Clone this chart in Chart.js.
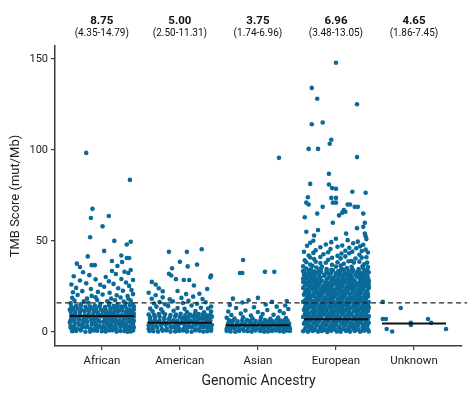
<!DOCTYPE html>
<html>
<head>
<meta charset="utf-8">
<script src="https://cdn.jsdelivr.net/npm/chart.js@4"></script>
<style>
    body { margin: 0; background: #fff; }
    #wrap { width: 474px; height: 396px; position: relative; }
</style>
</head>
<body>
<div id="wrap"><canvas id="tmbChart"></canvas></div>
<script>
// Categories and summary labels
const categories = ["African", "American", "Asian", "European", "Unknown"];
const medians = [8.75, 5.00, 3.75, 6.96, 4.65];
const medianLabels = ["8.75", "5.00", "3.75", "6.96", "4.65"];
const rangeLabels = ["(4.35-14.79)", "(2.50-11.31)", "(1.74-6.96)", "(3.48-13.05)", "(1.86-7.45)"];
const yTicks = [0, 50, 100, 150];
const threshold = 16;

// Points: [jitter offset from category centre, TMB score]
const africanPoints = [
    [-.38,.4],[-.27,.9],[-.15,.2],[-.06,.7],[.05,.3],[.14,1.0],[.24,.5],[.33,.1],[.4,.8],
    [-.33,.5],[-.21,.1],[-.1,.8],[.0,.4],[.1,.9],[.19,.2],[.29,.6],[.37,.3],
    [-.4,2.3],[-.31,1.8],[-.2,2.6],[-.1,1.6],[.0,2.2],[.1,2.7],[.19,1.7],[.29,2.4],[.37,2.0],
    [-.36,2.0],[-.25,2.5],[-.15,1.9],[-.05,2.4],[.05,1.7],[.15,2.2],[.24,2.8],[.33,1.6],[.41,2.5],
    [-.35,3.6],[-.24,3.2],[-.13,4.0],[-.03,3.4],[.07,3.9],[.17,3.3],[.27,3.8],[.36,3.1],
    [-.4,3.4],[-.29,3.9],[-.19,3.3],[-.08,3.7],[.02,3.1],[.12,3.6],[.22,4.1],[.31,3.5],[.4,3.9],
    [-.41,5.2],[-.3,4.8],[-.19,5.5],[-.08,4.7],[.02,5.3],[.12,5.0],[.22,5.6],[.31,4.6],[.4,5.1],
    [-.35,5.4],[-.24,5.0],[-.13,5.2],[-.03,5.7],[.07,4.9],[.17,5.4],[.27,5.0],[.36,5.5],
    [-.36,6.7],[-.25,6.2],[-.14,6.9],[-.04,6.3],[.08,6.8],[.18,6.1],[.28,6.6],[.38,6.4],
    [-.4,6.4],[-.3,6.9],[-.2,6.4],[-.09,6.6],[.03,6.1],[.13,6.9],[.23,6.3],[.33,6.8],[.41,6.2],
    [-.39,8.1],[-.29,7.7],[-.18,8.4],[-.07,7.8],[.03,8.2],[.13,7.6],[.23,8.5],[.33,7.9],[.41,8.3],
    [-.34,8.4],[-.23,7.9],[-.12,8.1],[-.02,8.5],[.08,7.8],[.18,8.2],[.28,7.7],[.37,8.0],
    [-.34,9.8],[-.22,9.2],[-.11,9.9],[.0,9.3],[.1,9.7],[.2,9.1],[.3,9.6],[.39,9.4],
    [-.39,9.5],[-.28,9.4],[-.17,9.7],[-.05,9.2],[.05,9.9],[.15,9.4],[.25,9.2],[.35,9.8],[.41,9.9],
    [-.4,11.2],[-.28,10.8],[-.16,11.5],[-.05,10.7],[.06,11.3],[.16,11.0],[.26,11.6],[.35,10.9],
    [-.34,11.1],[-.22,11.4],[-.1,10.9],[.01,11.5],[.11,10.8],[.21,11.3],[.31,11.1],[.4,10.8],
    [-.37,12.7],[-.26,12.2],[-.12,12.9],[-.01,12.3],[.11,12.8],[.21,12.1],[.32,12.6],[.41,12.4],
    [-.41,12.3],[-.31,12.8],[-.19,12.4],[-.07,12.6],[.05,12.1],[.16,12.6],[.26,12.9],[.37,12.2],
    [-.33,14.2],[-.21,13.8],[-.09,14.5],[.04,13.7],[.15,14.3],[.25,14.0],[.36,14.6],
    [-.39,14.0],[-.27,14.4],[-.15,13.9],[-.03,14.1],[.09,14.6],[.2,13.8],[.3,14.3],[.41,14.1],
    [-.4,15.7],[-.27,15.2],[-.17,16.0],[-.02,15.4],[.09,15.9],[.2,15.1],[.3,15.8],[.39,15.3],
    [-.35,17.3],[-.23,16.8],[-.06,17.5],[.07,16.9],[.17,17.4],[.28,16.7],[.37,17.2],
    [-.38,18.8],[-.19,18.3],[-.08,19.0],[.12,18.4],[.24,18.9],[.34,18.2],
    [-.31,20.3],[-.13,19.8],[.01,20.6],[.19,20.1],[.33,19.7],[.4,20.8],
    [-.37,21.8],[-.25,22.4],[-.05,22.0],[.1,21.5],[.27,22.6],[.38,23.0],
    [-.33,24.2],[-.14,23.6],[.03,24.8],[.21,24.0],[.35,25.3],
    [-.39,26.1],[-.2,26.7],[-.02,25.9],[.15,26.4],[.31,27.2],
    [-.28,28.3],[-.08,28.9],[.09,27.8],[.25,29.1],[.4,28.5],
    [-.36,30.6],[-.16,31.2],[.05,30.2],[.18,31.8],[.34,32.4],
    [-.24,32.8],[.13,33.5],[.29,33.1],[.37,34.0],
    [-.28,35.7],[-.13,36.7],[-.09,36.7],[.2,36.2],[.26,38.4],[.32,40.6],[.35,40.6],
    [.13,39.0],[.25,42.0],[-.32,37.5],[-.18,41.5],[.03,44.5],
    [.16,50],[.32,48],[.37,49.5],[-.15,52],[.01,58],[-.14,62.6],[.09,63.7],
    [-.12,67.6],[.36,83.5],[-.2,98.3]
];

const americanPoints = [
    [-.39,.6],[-.28,.2],[-.17,.9],[-.06,.3],[.04,.8],[.15,.1],[.25,.7],[.35,.4],
    [-.34,.4],[-.22,.7],[-.12,.2],[-.01,.6],[.09,.3],[.2,.9],[.3,.2],[.4,.7],
    [-.35,2.1],[-.23,1.6],[-.11,2.5],[-.01,1.8],[.1,2.3],[.2,1.5],[.3,2.6],[.4,2.0],
    [-.4,1.8],[-.29,2.3],[-.17,1.7],[-.06,2.2],[.05,1.9],[.15,2.6],[.25,1.9],[.35,2.3],
    [-.4,3.7],[-.3,3.2],[-.18,3.9],[-.07,3.3],[.06,3.8],[.16,3.1],[.27,3.6],[.37,3.4],
    [-.35,3.5],[-.24,3.8],[-.12,3.2],[-.02,3.7],[.11,3.3],[.21,3.9],[.32,3.2],[.41,3.8],
    [-.34,5.3],[-.21,4.8],[-.1,5.6],[.02,4.9],[.12,5.4],[.23,4.7],[.33,5.2],
    [-.39,5.0],[-.28,5.4],[-.16,4.9],[-.04,5.2],[.07,5.6],[.18,5.0],[.28,4.8],[.38,5.4],
    [-.38,6.8],[-.26,6.3],[-.14,7.0],[-.03,6.2],[.08,6.7],[.19,6.4],[.29,7.1],[.39,6.5],
    [-.32,6.5],[-.2,6.9],[-.08,6.4],[.03,6.8],[.14,6.2],[.24,6.9],[.34,6.6],
    [-.32,8.3],[-.2,7.8],[-.06,8.5],[.05,7.9],[.17,8.4],[.26,7.7],[.36,8.1],
    [-.38,8.0],[-.26,8.4],[-.13,7.9],[.0,8.2],[.11,8.0],[.22,8.3],[.31,7.8],[.41,8.4],
    [-.4,9.6],[-.27,9.9],[-.12,9.3],[.01,10.0],[.13,9.5],[.24,9.8],[.34,9.2],
    [-.33,9.4],[-.19,9.7],[-.05,9.5],[.07,9.2],[.19,9.9],[.29,9.5],[.39,9.6],
    [-.35,11.3],[-.22,10.9],[-.08,11.6],[.09,11.0],[.2,11.5],[.31,10.8],[.4,11.2],
    [-.38,12.8],[-.3,13.9],[-.24,12.5],[-.15,14.2],[-.03,13.1],[.06,12.7],[.15,14.5],[.27,13.3],[.36,12.9],
    [-.33,15.6],[-.26,16.4],[-.19,15.2],[-.09,16.8],[.04,15.9],[.11,17.1],[.22,15.5],[.33,16.3],[.4,14.0],
    [-.36,18.2],[-.22,19.0],[-.13,17.9],[.02,18.7],[.17,19.4],[.29,18.1],[-.31,20.2],[.08,20.8],
    [-.4,21.5],[.25,21.0],[-.22,22.3],[-.03,22.5],[.35,23.6],[-.27,24],[.18,25.5],[-.31,26.0],
    [-.36,27.5],[.05,28.5],[.12,28.5],[-.05,29],[.39,30],[.4,31],[-.11,31],[-.14,32],
    [-.1,35],[.1,36],[.22,37],[.0,38.5],[-.14,44],[.09,44],[.28,45.4]
];

const asianPoints = [
    [-.4,.5],[-.29,.1],[-.18,.7],[-.08,.2],[.03,.6],[.13,.3],[.23,.8],[.33,.2],[.41,.6],
    [-.35,.3],[-.24,.6],[-.13,.4],[-.03,.8],[.08,.2],[.18,.6],[.28,.4],[.37,.8],
    [-.35,1.9],[-.24,1.5],[-.13,2.2],[-.02,1.6],[.08,2.1],[.18,1.4],[.28,2.0],[.38,1.7],
    [-.4,1.7],[-.3,2.1],[-.19,1.6],[-.07,2.0],[.03,1.8],[.13,2.2],[.23,1.6],[.33,2.1],[.41,1.9],
    [-.39,3.3],[-.28,2.9],[-.17,3.6],[-.06,3.0],[.05,3.5],[.15,2.8],[.25,3.4],[.35,3.1],
    [-.34,3.1],[-.23,3.5],[-.12,3.0],[-.01,3.4],[.1,3.2],[.2,3.6],[.3,3.0],[.4,3.3],
    [-.33,4.9],[-.21,4.4],[-.1,5.1],[.01,4.5],[.11,5.0],[.21,4.3],[.31,4.8],[.4,4.6],
    [-.38,4.7],[-.27,4.5],[-.16,4.8],[-.05,4.3],[.06,4.8],[.16,4.6],[.26,4.9],[.36,4.4],
    [-.37,6.4],[-.26,5.9],[-.14,6.6],[-.03,6.0],[.09,6.5],[.19,5.8],[.29,6.3],[.38,6.1],
    [-.32,6.2],[-.2,6.5],[-.09,6.1],[.03,6.3],[.14,6.0],[.24,6.6],[.34,6.4],
    [-.4,7.8],[-.3,7.4],[-.19,8.1],[-.07,7.5],[.04,8.0],[.16,7.3],[.26,7.9],[.36,7.6],
    [-.34,9.3],[-.22,10.1],[-.09,9.0],[.06,9.8],[.2,9.4],[.33,10.3],
    [-.38,11.2],[-.16,11.8],[.0,11.0],[.12,12.1],[.28,11.5],[.39,12.6],
    [-.28,13.2],[-.05,13.6],[.24,13.9],[-.36,14.8],[.1,15.1],[.35,14.5],
    [-.2,16.2],[.18,16.6],[-.12,17.4],[.37,17.0],[.0,18.7],[-.32,18.3],
    [-.23,32.4],[-.2,32.4],[-.19,39.5],[.09,33],[.21,33],[.27,95.6]
];

const europeanPoints = [
    [-.42,.4],[-.36,.1],[-.3,.6],[-.23,.2],[-.18,.5],[-.11,.0],[-.06,.7],[.01,.3],[.06,.1],[.13,.6],[.18,.2],[.24,.5],[.31,.1],[.36,.7],[.42,.3],
    [-.4,1.2],[-.33,1.5],[-.28,1.0],[-.21,1.4],[-.14,1.1],[-.09,1.6],[-.01,1.3],[.05,1.0],[.11,1.5],[.17,1.2],[.23,1.6],[.29,1.1],[.35,1.4],[.41,1.2],
    [-.39,2.1],[-.33,2.6],[-.27,1.9],[-.2,2.4],[-.15,1.8],[-.08,2.7],[-.03,2.0],[.04,2.5],[.09,1.7],[.16,2.3],[.21,2.8],[.27,2.0],[.34,2.4],[.39,1.9],
    [-.37,3.4],[-.31,3.0],[-.25,3.5],[-.19,3.1],[-.13,3.6],[-.07,3.2],[-.01,3.5],[.04,3.0],[.1,3.4],[.17,3.1],[.23,3.6],[.28,3.2],[.35,3.5],[.4,3.0],
    [-.41,4.5],[-.35,4.0],[-.29,4.7],[-.24,4.1],[-.17,4.4],[-.12,3.9],[-.05,4.6],[.0,4.2],[.07,4.8],[.12,4.0],[.19,4.5],[.25,4.1],[.3,4.7],[.37,4.2],[.41,4.6],
    [-.4,5.3],[-.34,5.7],[-.28,5.1],[-.22,5.5],[-.16,5.0],[-.1,5.6],[-.04,5.2],[.02,5.7],[.08,5.1],[.14,5.4],[.2,5.0],[.26,5.6],[.32,5.2],[.38,5.5],[.42,5.0],
    [-.38,6.1],[-.32,6.6],[-.26,6.0],[-.21,6.5],[-.14,6.2],[-.09,6.8],[-.02,6.1],[.03,6.6],[.1,6.0],[.15,6.4],[.22,6.9],[.28,6.2],[.33,6.7],[.4,6.1],
    [-.37,7.2],[-.31,7.6],[-.25,7.1],[-.19,7.5],[-.13,7.0],[-.07,7.4],[-.01,7.7],[.05,7.1],[.11,7.5],[.17,7.2],[.23,7.6],[.29,7.0],[.35,7.4],[.41,7.3],
    [-.42,8.2],[-.37,8.7],[-.3,8.0],[-.24,8.5],[-.19,8.1],[-.12,8.8],[-.07,8.3],[.0,8.6],[.05,8.0],[.12,8.4],[.17,8.9],[.24,8.1],[.3,8.6],[.35,8.2],[.42,8.7],
    [-.4,9.4],[-.34,9.0],[-.28,9.5],[-.22,9.2],[-.16,9.6],[-.1,9.1],[-.04,9.4],[.02,9.0],[.08,9.6],[.14,9.2],[.2,9.5],[.26,9.0],[.32,9.4],[.38,9.1],
    [-.39,10.5],[-.34,10.0],[-.27,10.7],[-.21,10.2],[-.15,10.6],[-.09,9.9],[-.03,10.4],[.03,10.8],[.09,10.1],[.16,10.5],[.2,10.0],[.27,10.6],[.33,10.2],[.39,10.7],
    [-.37,11.5],[-.31,11.1],[-.25,11.6],[-.19,11.0],[-.13,11.4],[-.07,11.2],[-.01,11.6],[.05,11.1],[.11,11.5],[.17,11.0],[.23,11.4],[.29,11.7],[.35,11.2],[.41,11.5],
    [-.41,12.1],[-.36,12.6],[-.29,12.0],[-.23,12.5],[-.18,12.2],[-.11,12.8],[-.05,12.3],[.01,12.7],[.07,12.0],[.13,12.4],[.18,12.9],[.25,12.2],[.31,12.6],[.36,12.1],[.41,12.5],
    [-.4,13.2],[-.34,13.6],[-.28,13.1],[-.22,13.5],[-.16,13.0],[-.1,13.4],[-.04,13.7],[.02,13.2],[.08,13.5],[.14,13.0],[.2,13.4],[.26,13.1],[.32,13.6],[.38,13.2],[.42,13.5],
    [-.39,14.4],[-.32,14.0],[-.27,14.7],[-.2,14.2],[-.14,14.6],[-.08,13.9],[-.02,14.5],[.04,14.1],[.1,14.8],[.15,14.3],[.22,14.0],[.27,14.6],[.34,14.2],[.4,14.7],
    [-.37,15.4],[-.31,15.0],[-.25,15.5],[-.19,15.1],[-.13,15.6],[-.07,15.2],[-.01,15.5],[.05,15.0],[.11,15.4],[.17,15.7],[.23,15.1],[.29,15.5],[.35,15.0],[.41,15.4],
    [-.42,16.5],[-.35,16.0],[-.3,16.6],[-.24,16.1],[-.17,16.7],[-.12,16.2],[-.06,16.5],[.01,16.0],[.06,16.8],[.12,16.3],[.19,16.6],[.24,16.1],[.31,16.7],[.36,16.2],[.42,16.4],
    [-.4,17.3],[-.34,17.6],[-.28,17.1],[-.22,17.5],[-.16,17.2],[-.1,17.7],[-.04,17.1],[.02,17.4],[.08,17.0],[.14,17.5],[.2,17.2],[.26,17.6],[.32,17.1],[.38,17.5],
    [-.38,18.1],[-.33,18.6],[-.26,18.2],[-.21,18.8],[-.15,18.0],[-.08,18.5],[-.03,18.9],[.03,18.3],[.09,18.7],[.16,18.1],[.21,18.6],[.28,18.0],[.33,18.5],[.39,18.9],
    [-.37,19.2],[-.31,19.6],[-.25,19.1],[-.19,19.5],[-.13,19.0],[-.07,19.4],[-.01,19.7],[.05,19.2],[.11,19.5],[.17,19.0],[.23,19.4],[.29,19.6],[.35,19.1],[.41,19.5],
    [-.41,20.4],[-.36,20.9],[-.29,20.1],[-.23,20.6],[-.18,20.2],[-.11,20.8],[-.06,20.3],[.0,20.7],[.07,20.1],[.12,20.5],[.18,21.0],[.25,20.2],[.3,20.6],[.37,20.3],[.41,20.8],
    [-.4,21.4],[-.34,21.0],[-.28,21.5],[-.22,21.1],[-.16,21.6],[-.1,21.2],[-.04,21.5],[.02,21.0],[.08,21.4],[.14,21.7],[.2,21.1],[.26,21.5],[.32,21.2],[.38,21.6],
    [-.39,22.5],[-.34,22.0],[-.26,22.7],[-.2,22.1],[-.15,22.6],[-.09,22.3],[-.02,22.8],[.04,22.2],[.09,22.6],[.15,22.0],[.22,22.7],[.28,22.3],[.33,22.8],[.4,22.1],
    [-.37,23.2],[-.31,23.6],[-.25,23.0],[-.19,23.5],[-.13,23.3],[-.07,23.4],[-.01,23.1],[.05,23.6],[.11,23.2],[.17,23.6],[.23,23.5],[.29,23.0],[.35,23.4],[.41,23.7],
    [-.42,24.2],[-.35,24.7],[-.29,24.1],[-.24,24.6],[-.17,24.3],[-.11,24.4],[-.06,24.5],[.01,24.0],[.06,24.8],[.13,24.2],[.19,24.6],[.24,24.2],[.3,24.4],[.36,24.9],[.42,24.1],
    [-.4,25.4],[-.34,25.1],[-.28,25.1],[-.22,25.6],[-.16,25.4],[-.1,25.2],[-.04,25.7],[.02,25.0],[.08,25.3],[.14,25.0],[.2,25.5],[.26,25.7],[.32,25.2],[.38,25.6],[.42,25.3],
    [-.38,26.4],[-.32,26.0],[-.26,26.3],[-.21,26.6],[-.14,26.1],[-.08,26.8],[-.02,26.5],[.03,26.3],[.1,26.7],[.16,26.0],[.21,26.2],[.27,26.5],[.33,26.2],[.4,26.9],
    [-.42,27.4],[-.37,27.2],[-.31,27.0],[-.25,27.5],[-.19,27.7],[-.13,27.1],[-.07,27.3],[.01,27.6],[.07,27.1],[.12,27.6],[.17,27.3],[.23,27.4],[.29,27.0],[.33,27.8],[.37,27.5],[.42,27.2],
    [-.41,28.4],[-.35,28.0],[-.29,28.3],[-.24,28.6],[-.18,28.1],[-.12,28.8],[-.05,28.5],[.0,28.2],[.06,28.0],[.12,28.7],[.18,28.4],[.24,28.3],[.31,28.8],[.36,28.5],[.42,28.2],
    [-.42,29.3],[-.38,29.7],[-.32,29.4],[-.26,29.1],[-.2,29.8],[-.1,29.6],[-.04,29.2],[.03,29.7],[.09,29.3],[.15,29.2],[.21,29.5],[.3,29.8],[.36,29.1],[.41,29.6],
    [-.37,30.5],[-.32,30.4],[-.27,30.1],[-.21,30.2],[-.15,30.8],[-.08,30.6],[-.02,30.3],[.04,30.9],[.09,30.6],[.15,30.4],[.2,30.0],[.27,30.3],[.34,30.7],[.4,31.2],
    [-.41,31.4],[-.35,31.1],[-.28,31.7],[-.22,31.5],[-.15,31.3],[-.09,31.9],[.01,31.8],[.07,31.2],[.13,31.6],[.19,31.1],[.25,31.4],[.31,31.8],[.37,31.3],
    [-.4,32.6],[-.35,32.5],[-.31,32.1],[-.25,32.3],[-.19,32.9],[-.12,32.7],[-.06,32.4],[.0,32.2],[.05,33.0],[.11,32.6],[.16,32.2],[.21,32.9],[.27,32.7],[.33,32.4],[.37,33.3],[.42,32.8],
    [-.42,33.4],[-.34,33.8],[-.28,33.2],[-.22,33.7],[-.12,33.5],[-.04,33.9],[.03,33.4],[.1,34.2],[.16,33.6],[.22,33.9],[.29,33.8],[.4,34.0],
    [-.38,34.8],[-.32,34.4],[-.25,35.4],[-.19,34.9],[-.12,34.5],[-.06,34.2],[.0,35.9],[.07,34.7],[.14,35.1],[.21,34.4],[.29,34.6],[.35,34.9],[.41,35.7],
    [-.42,36.0],[-.3,36.3],[-.18,35.9],[.06,36.4],[.2,35.8],[.34,36.1],
    [-.33,37.0],[-.2,37.8],[-.05,36.9],[.1,37.4],[.23,38.1],[.36,37.2],
    [-.38,38.3],[-.26,38.6],[-.13,38.0],[.02,38.3],[.16,38.8],[.3,38.6],[.4,38.1],
    [-.4,39.3],[-.28,40.1],[-.1,39.6],[.06,40.4],[.2,39.0],[.33,40.8],
    [-.33,40.9],[-.2,41.2],[-.05,40.7],[.12,41.5],[.25,40.3],[.39,41.0],
    [-.35,42.0],[-.16,42.7],[.02,41.8],[.17,43.2],[.3,42.4],[.41,43.6],
    [-.41,44.0],[-.29,43.4],[-.1,43.8],[.07,43.1],[.21,44.1],[.33,44.4],
    [-.26,44.8],[-.07,45.5],[.12,44.6],[.26,46.0],[.38,45.2],
    [-.2,46.5],[.02,46.8],[.17,46.2],[.31,47.0],
    [-.37,47.3],[-.13,48.0],[.08,47.5],[.22,48.7],[.35,47.9],
    [-.33,49.0],[-.06,49.3],[.28,49.6],
    [-.29,50.1],[.0,51.2],[.15,50.4],[.39,51.0],
    [-.28,53],[-.38,55],[.13,54],[.37,54],[.38,52.5],[-.23,56],[.27,57],[.35,57.7],[.37,60],[-.04,60],
    [-.4,63],[.04,64],[.35,65],[-.24,65],[.08,65.5],[.12,66],[.1,67],[.24,68.7],[.28,68.7],[-.17,68.7],
    [.15,70],[.18,70],[-.35,70],[-.38,71],[-.04,71],[.0,71],[-.36,74],[-.06,73.6],[.0,73.6],
    [.38,76.4],[.21,77],[.0,78.6],[-.05,79],[-.09,81],[-.33,81.3],[-.09,86.8],[.27,96],
    [-.35,100.5],[-.23,100.5],[-.08,103.3],[-.06,105.5],[-.31,114],[-.17,115],
    [.27,125],[-.24,128],[-.31,134],[.0,147.8]
];

const unknownPoints = [
    [-.4,16.5],[-.17,13.2],[-.4,7.1],[-.36,7.1],[-.35,1.6],[-.28,0.3],
    [-.04,5.0],[-.04,3.8],[.18,7.1],[.22,5.0],[.41,1.6]
];

const groups = [africanPoints, americanPoints, asianPoints, europeanPoints, unknownPoints];
const pointColor = "#0a6b9a";
const axisColor = "#3a3a3a";
const fontFamily = "Roboto, sans-serif";

const datasets = [];

// Median bars
medians.forEach((m, i) => {
    datasets.push({
        type: "line",
        data: [{ x: i - 0.41, y: m }, { x: i + 0.41, y: m }],
        borderColor: "#111",
        borderWidth: 2,
        pointRadius: 0,
        order: 0
    });
});

// Threshold dashed line
datasets.push({
    type: "line",
    data: [{ x: -0.58, y: threshold }, { x: 4.68, y: threshold }],
    borderColor: "#222",
    borderWidth: 1.3,
    borderDash: [5, 3.5],
    pointRadius: 0,
    clip: false,
    order: 0
});

// Jittered points
groups.forEach((pts, i) => {
    datasets.push({
        data: pts.map(([dx, y]) => ({ x: i + dx, y })),
        backgroundColor: pointColor,
        borderWidth: 0,
        pointRadius: 2.3,
        order: 1
    });
});

// Header with medians and ranges above each group
const headerPlugin = {
    id: "header",
    afterDraw(chart) {
        const ctx = chart.ctx;
        const xs = chart.scales.x;
        ctx.save();
        ctx.fillStyle = "#111";
        ctx.textAlign = "center";
        ctx.textBaseline = "middle";
        categories.forEach((c, i) => {
            const px = xs.getPixelForValue(i);
            ctx.font = "bold 11.5px " + fontFamily;
            ctx.fillText(medianLabels[i], px, 21);
            ctx.font = "10px " + fontFamily;
            ctx.fillText(rangeLabels[i], px, 33);
        });
        ctx.restore();
    }
};

const ctx = document.getElementById("tmbChart").getContext("2d");
new Chart(ctx, {
    type: "scatter",
    data: { datasets },
    plugins: [headerPlugin],
    options: {
        responsive: true,
        maintainAspectRatio: false,
        animation: false,
        layout: { padding: { top: 46, right: 12, left: 0, bottom: 0 } },
        plugins: {
            legend: { display: false },
            tooltip: { enabled: false }
        },
        scales: {
            x: {
                type: "linear",
                min: -0.6,
                max: 4.615,
                afterFit: (s) => { s.height = 50; },
                afterBuildTicks: (axis) => { axis.ticks = categories.map((c, i) => ({ value: i })); },
                grid: { drawOnChartArea: false, drawTicks: true, tickLength: 4, color: axisColor, lineWidth: 1.2 },
                border: { display: true, color: axisColor, width: 1.5 },
                ticks: {
                    color: "#222",
                    padding: 4,
                    font: { family: fontFamily, size: 11.5 },
                    callback: (v) => categories[v] ?? ""
                },
                title: {
                    display: true,
                    text: "Genomic Ancestry",
                    color: "#222",
                    font: { family: fontFamily, size: 14 },
                    padding: { top: 4, bottom: 6 }
                }
            },
            y: {
                min: -7.7,
                max: 157,
                afterFit: (s) => { s.width = 55; },
                afterBuildTicks: (axis) => { axis.ticks = yTicks.map(v => ({ value: v })); },
                grid: { drawOnChartArea: false, drawTicks: true, tickLength: 4, color: axisColor, lineWidth: 1.2 },
                border: { display: true, color: axisColor, width: 1.5 },
                ticks: {
                    color: "#222",
                    padding: 3,
                    font: { family: fontFamily, size: 11 }
                },
                title: {
                    display: true,
                    text: "TMB Score (mut/Mb)",
                    color: "#222",
                    font: { family: fontFamily, size: 13 },
                    padding: { top: 8, bottom: 4 }
                }
            }
        }
    }
});
</script>
</body>
</html>
